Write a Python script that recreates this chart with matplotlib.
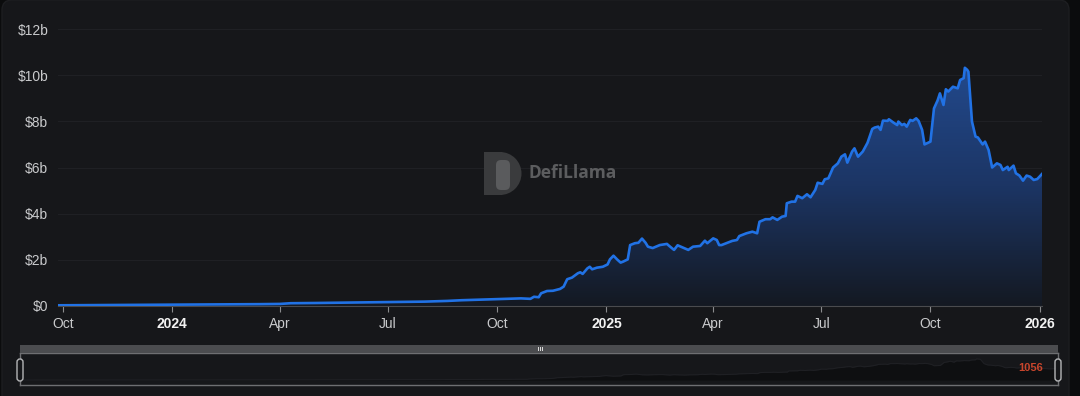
import matplotlib
matplotlib.use("Agg")
import matplotlib.pyplot as plt
import matplotlib.dates as mdates
import matplotlib.transforms as mtransforms
from matplotlib.patches import FancyBboxPatch, Rectangle, Wedge
from matplotlib.colors import LinearSegmentedColormap
import numpy as np
import pandas as pd

# TVL series (values in $ billions)
dates = [
    "2023-09-27", "2023-11-01", "2023-12-15", "2024-01-15", "2024-02-15",
    "2024-03-15", "2024-04-01", "2024-04-10", "2024-05-01", "2024-06-01",
    "2024-07-01", "2024-08-01", "2024-08-20", "2024-09-01", "2024-09-20",
    "2024-10-01", "2024-10-21", "2024-10-29", "2024-11-01", "2024-11-05",
    "2024-11-07", "2024-11-12", "2024-11-17", "2024-11-23", "2024-11-26",
    "2024-11-29", "2024-12-03", "2024-12-08", "2024-12-10", "2024-12-12",
    "2024-12-16", "2024-12-18", "2024-12-20", "2024-12-24", "2024-12-29",
    "2025-01-02", "2025-01-04", "2025-01-07", "2025-01-10", "2025-01-13",
    "2025-01-15", "2025-01-19", "2025-01-21", "2025-01-25", "2025-01-28",
    "2025-01-31", "2025-02-03", "2025-02-05", "2025-02-09", "2025-02-15",
    "2025-02-21", "2025-02-23", "2025-02-27", "2025-03-02", "2025-03-06",
    "2025-03-11", "2025-03-15", "2025-03-21", "2025-03-25", "2025-03-27",
    "2025-04-01", "2025-04-04", "2025-04-06", "2025-04-08", "2025-04-12",
    "2025-04-17", "2025-04-21", "2025-04-23", "2025-04-29", "2025-05-04",
    "2025-05-08", "2025-05-10", "2025-05-15", "2025-05-19", "2025-05-21",
    "2025-05-25", "2025-05-29", "2025-06-01", "2025-06-02", "2025-06-06",
    "2025-06-09", "2025-06-11", "2025-06-15", "2025-06-19", "2025-06-22",
    "2025-06-26", "2025-06-28", "2025-07-02", "2025-07-04", "2025-07-07",
    "2025-07-11", "2025-07-15", "2025-07-18", "2025-07-21", "2025-07-23",
    "2025-07-27", "2025-07-29", "2025-08-01", "2025-08-05", "2025-08-09",
    "2025-08-13", "2025-08-15", "2025-08-18", "2025-08-20", "2025-08-22",
    "2025-08-26", "2025-08-27", "2025-08-31", "2025-09-03", "2025-09-04",
    "2025-09-07", "2025-09-09", "2025-09-11", "2025-09-14", "2025-09-16",
    "2025-09-19", "2025-09-21", "2025-09-24", "2025-09-26", "2025-09-28",
    "2025-10-01", "2025-10-03", "2025-10-04", "2025-10-07", "2025-10-09",
    "2025-10-12", "2025-10-14", "2025-10-16", "2025-10-20", "2025-10-24",
    "2025-10-26", "2025-10-29", "2025-10-30", "2025-11-01", "2025-11-02",
    "2025-11-05", "2025-11-08", "2025-11-10", "2025-11-14", "2025-11-16",
    "2025-11-19", "2025-11-22", "2025-11-26", "2025-11-29", "2025-12-01",
    "2025-12-05", "2025-12-06", "2025-12-10", "2025-12-12", "2025-12-15",
    "2025-12-18", "2025-12-21", "2025-12-24", "2025-12-27", "2025-12-30",
    "2026-01-03",
]
tvl = [
    0.03, 0.04, 0.05, 0.06, 0.07,
    0.08, 0.09, 0.12, 0.13, 0.15,
    0.17, 0.19, 0.22, 0.25, 0.28,
    0.30, 0.33, 0.31, 0.40, 0.38,
    0.55, 0.65, 0.66, 0.74, 0.84,
    1.16, 1.23, 1.42, 1.46, 1.39,
    1.63, 1.70, 1.59, 1.66, 1.70,
    1.80, 2.02, 2.18, 2.02, 1.88,
    1.92, 2.02, 2.64, 2.72, 2.74,
    2.92, 2.74, 2.57, 2.51, 2.64,
    2.69, 2.60, 2.43, 2.63, 2.54,
    2.43, 2.57, 2.60, 2.83, 2.72,
    2.93, 2.86, 2.64, 2.64, 2.72,
    2.82, 2.86, 3.03, 3.15, 3.22,
    3.15, 3.65, 3.76, 3.76, 3.84,
    3.73, 3.87, 3.90, 4.45, 4.52,
    4.52, 4.77, 4.67, 4.84, 4.71,
    5.03, 5.34, 5.29, 5.49, 5.53,
    6.00, 6.18, 6.47, 6.57, 6.21,
    6.69, 6.83, 6.47, 6.69, 7.07,
    7.67, 7.73, 7.77, 7.63, 8.03,
    8.02, 8.09, 7.94, 7.84, 7.99,
    7.84, 7.89, 7.77, 8.06, 8.02,
    8.13, 8.02, 7.63, 7.00, 7.05,
    7.12, 8.06, 8.56, 8.90, 9.21,
    8.71, 9.39, 9.29, 9.50, 9.43,
    9.79, 9.87, 10.32, 10.23, 10.15,
    7.99, 7.34, 7.30, 7.00, 7.12,
    6.76, 6.00, 6.18, 6.11, 5.89,
    6.03, 5.89, 6.08, 5.75, 5.65,
    5.43, 5.65, 5.60, 5.46, 5.50,
    5.72,
]

tick_dates = ["2023-10-01", "2024-01-01", "2024-04-01", "2024-07-01", "2024-10-01",
              "2025-01-01", "2025-04-01", "2025-07-01", "2025-10-01", "2026-01-01"]
tick_labels = ["Oct", "2024", "Apr", "Jul", "Oct", "2025", "Apr", "Jul", "Oct", "2026"]
y_ticks = [0, 2, 4, 6, 8, 10, 12]
y_labels = ["$0", "$2b", "$4b", "$6b", "$8b", "$10b", "$12b"]

plt.rcParams['font.family'] = ['Liberation Sans', 'DejaVu Sans']

W, H = 1080, 396
x = mdates.date2num(pd.to_datetime(dates))
y = np.array(tvl)
xt = mdates.date2num(pd.to_datetime(tick_dates))

fig = plt.figure(figsize=(W / 100, H / 100), dpi=100)
fig.patch.set_facecolor('#0b0c0d')

# card background with rounded corners
px = mtransforms.IdentityTransform()
fig.add_artist(FancyBboxPatch((2, -20), 1067, 416, boxstyle='round,pad=0,rounding_size=10',
                              transform=px, fc='#16171a', ec='#1d1e21', lw=1, zorder=0))

def box(l, t, r, b):
    return [l / W, 1 - b / H, (r - l) / W, (b - t) / H]

ax = fig.add_axes(box(58, 29, 1042, 306))
ax.set_facecolor('none')
ax.set_xlim(x[0], x[-1])
ax.set_ylim(0, 12)

# grid + axes styling
ax.set_yticks(y_ticks)
ax.set_yticklabels(y_labels)
ax.grid(axis='y', color='#1f2024', lw=0.8)
ax.set_axisbelow(True)
for s in ['top', 'right', 'left']:
    ax.spines[s].set_visible(False)
ax.spines['bottom'].set_color('#4a4b4e')
ax.tick_params(axis='y', length=0, pad=7, labelsize=10, labelcolor='#c9cacc')
ax.set_xticks(xt)
ax.set_xticklabels(tick_labels)
ax.tick_params(axis='x', length=4, color='#8a8b8d', pad=4, labelsize=10, labelcolor='#c9cacc')
for lab in ax.get_xticklabels():
    if lab.get_text().isdigit():
        lab.set_fontweight('bold')
        lab.set_color('#f2f2f2')

# gradient area under the line
fill = ax.fill_between(x, y, 0, facecolor='none', edgecolor='none')
cmap = LinearSegmentedColormap.from_list('g', ['#141922', '#1c3564', '#22498c'])
grad = np.linspace(0, 1, 256).reshape(-1, 1)
im = ax.imshow(grad, extent=[x[0], x[-1], 0, y.max()], origin='lower', aspect='auto',
               cmap=cmap, zorder=1)
im.set_clip_path(fill.get_paths()[0], transform=ax.transData)
ax.plot(x, y, color='#2172e5', lw=1.9, zorder=3, solid_joinstyle='round')

# watermark
fig.add_artist(Rectangle((484, 396 - 195), 18, 43, transform=px, fc='#3a3b3d', ec='none', zorder=1))
fig.add_artist(Wedge((500, 396 - 173.5), 21.5, -90, 90, transform=px, fc='#3a3b3d', ec='none', zorder=1))
fig.add_artist(FancyBboxPatch((496, 396 - 190), 14, 30, boxstyle='round,pad=0,rounding_size=5',
                              transform=px, fc='#5a5b5d', ec='none', zorder=1))
fig.text(528 / W, 1 - 173 / H, 'DefiLlama', color='#5c5d5f', fontsize=12.5, fontweight='bold',
         ha='left', va='center', family=['Open Sans', 'DejaVu Sans'])

# range slider at the bottom
fig.add_artist(Rectangle((20, 396 - 353), 1038, 8, transform=px, fc='#4b4c4f', ec='none'))
for dx in (-2, 0, 2):
    fig.add_artist(Rectangle((540 + dx, 396 - 351), 0.8, 4, transform=px, fc='#d8d8d8', ec='none'))
ax2 = fig.add_axes(box(20, 353, 1058, 385))
ax2.set_facecolor('none')
ax2.set_xlim(x[0], x[-1])
ax2.set_ylim(-2.4, 13.2)
ax2.fill_between(x, y, 0, color='#0e0f11', lw=0)
ax2.plot(x, y, color='#1f2024', lw=0.8)
ax2.set_xticks([])
ax2.set_yticks([])
for s in ax2.spines.values():
    s.set_color('#6e6f72')
    s.set_linewidth(1)
for hx in (17, 1055):
    fig.add_artist(FancyBboxPatch((hx, 396 - 381), 6, 22, boxstyle='round,pad=0,rounding_size=3',
                                  transform=px, fc='#16171a', ec='#b5b6b8', lw=1, zorder=5))
fig.text(1031 / W, 1 - 368 / H, '1056', color='#c8452c', fontsize=8, fontweight='bold',
         ha='center', va='center')

fig.savefig('out.png', dpi=100, facecolor=fig.get_facecolor())
